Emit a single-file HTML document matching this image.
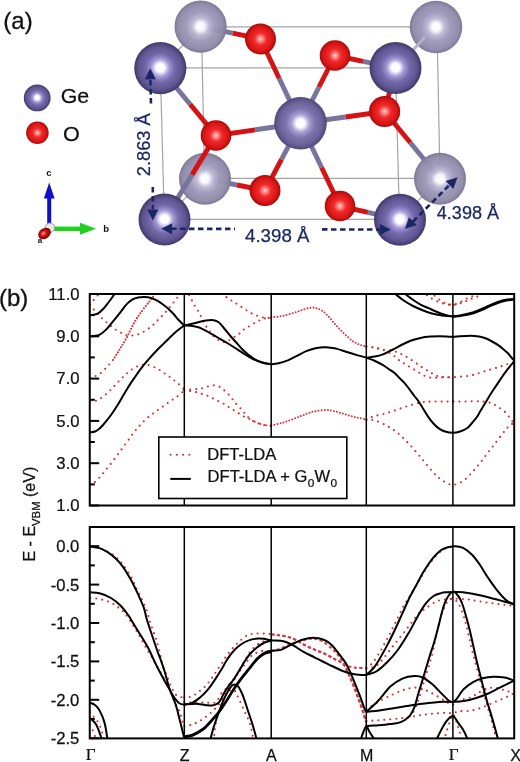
<!DOCTYPE html>
<html><head><meta charset="utf-8"><title>GeO2 structure and band structure</title>
<style>
html,body{margin:0;padding:0;background:#fff;}
body{width:520px;height:762px;overflow:hidden;}
svg{display:block;}
</style></head><body>
<svg width="520" height="762" viewBox="0 0 520 762">
<defs>
<radialGradient id="gD" cx="0.5" cy="0.5" r="0.5" fx="0.5" fy="0.49">
<stop offset="0" stop-color="#ffffff"/><stop offset="0.16" stop-color="#fcfbff"/><stop offset="0.34" stop-color="#a399d6"/><stop offset="0.55" stop-color="#7469aa"/><stop offset="0.82" stop-color="#5e5592"/><stop offset="1" stop-color="#413969"/>
</radialGradient>
<radialGradient id="gC" cx="0.5" cy="0.5" r="0.5" fx="0.5" fy="0.5">
<stop offset="0" stop-color="#ffffff"/><stop offset="0.16" stop-color="#fcfbff"/><stop offset="0.34" stop-color="#a8a0d4"/><stop offset="0.55" stop-color="#7d75ad"/><stop offset="0.82" stop-color="#6a6298"/><stop offset="1" stop-color="#4f4878"/>
</radialGradient>
<radialGradient id="gL" cx="0.5" cy="0.5" r="0.5" fx="0.5" fy="0.5">
<stop offset="0" stop-color="#ffffff"/><stop offset="0.15" stop-color="#fbfaff"/><stop offset="0.33" stop-color="#bcb7d3"/><stop offset="0.56" stop-color="#9e98b9"/><stop offset="0.85" stop-color="#908aaa"/><stop offset="1" stop-color="#7a7494"/>
</radialGradient>
<radialGradient id="gO" cx="0.5" cy="0.5" r="0.5" fx="0.5" fy="0.5">
<stop offset="0" stop-color="#ffdede"/><stop offset="0.15" stop-color="#ff8a8a"/><stop offset="0.4" stop-color="#f02a2a"/><stop offset="0.8" stop-color="#d81414"/><stop offset="1" stop-color="#a80a0a"/>
</radialGradient>
<radialGradient id="gA" cx="0.5" cy="0.5" r="0.5" fx="0.4" fy="0.4">
<stop offset="0" stop-color="#ff9090"/><stop offset="0.5" stop-color="#c41010"/><stop offset="1" stop-color="#7a0000"/>
</radialGradient>
<clipPath id="cT"><rect x="89.75" y="294.0" width="424.45000000000005" height="211.5"/></clipPath>
<clipPath id="cB"><rect x="89.75" y="527.0" width="424.45000000000005" height="211.39999999999998"/></clipPath>
</defs>
<rect width="520" height="762" fill="#fff"/>
<g font-family="Liberation Sans, Arial, sans-serif" fill="#111" stroke="#111" stroke-width="0.3">
<text x="3.3" y="29.4" font-size="24">(a)</text>
<text x="-1" y="305.6" font-size="24">(b)</text>
</g>
<!-- legend atoms -->
<circle cx="37.2" cy="97.9" r="13.4" fill="url(#gD)"/>
<circle cx="37.4" cy="132.8" r="11.3" fill="url(#gO)"/>
<g font-family="Liberation Sans, Arial, sans-serif" font-size="20" fill="#111" stroke="#111" stroke-width="0.25">
<text transform="translate(60.7,102.9) scale(1.04,1)" font-size="20.5">Ge</text>
<text transform="translate(63.1,140.9) scale(1.03,1)" font-size="21">O</text>
</g>
<!-- axes indicator -->
<g>
<line x1="49.2" y1="226" x2="49.2" y2="197" stroke="#1010c8" stroke-width="4"/>
<polygon points="49.2,182.5 43.8,198.5 54.6,198.5" fill="#1010c8"/>
<line x1="53" y1="228.8" x2="81" y2="228.8" stroke="#1ed21e" stroke-width="4.4"/>
<polygon points="96,228.8 80,222.8 80,234.8" fill="#1ed21e"/>
<circle cx="49.9" cy="227.8" r="4.8" fill="#e8e8e8" stroke="#9a9a9a" stroke-width="1"/>
<ellipse cx="44.5" cy="233.5" rx="6.8" ry="5.2" transform="rotate(-35 44.5 233.5)" fill="url(#gA)"/>
<g font-family="Liberation Sans, Arial, sans-serif" font-weight="bold" font-size="9.5" fill="#111">
<text x="46.2" y="175.8">c</text>
<text x="103.2" y="232">b</text>
<text x="37.8" y="242.5" font-size="8">a</text>
</g>
</g>
<line x1="160.3" y1="67.8" x2="395.5" y2="67.8" stroke="#a4a4a4" stroke-width="1.2"/>
<line x1="164.3" y1="219.4" x2="399.5" y2="219.4" stroke="#a4a4a4" stroke-width="1.2"/>
<line x1="160.3" y1="67.8" x2="164.3" y2="219.4" stroke="#a4a4a4" stroke-width="1.2"/>
<line x1="395.5" y1="67.8" x2="399.5" y2="219.4" stroke="#a4a4a4" stroke-width="1.2"/>
<line x1="201.5" y1="26.8" x2="437.0" y2="26.8" stroke="#a4a4a4" stroke-width="1.2"/>
<line x1="204.5" y1="178.3" x2="440.0" y2="178.3" stroke="#a4a4a4" stroke-width="1.2"/>
<line x1="201.5" y1="26.8" x2="204.5" y2="178.3" stroke="#a4a4a4" stroke-width="1.2"/>
<line x1="437.0" y1="26.8" x2="440.0" y2="178.3" stroke="#a4a4a4" stroke-width="1.2"/>
<line x1="160.3" y1="67.8" x2="201.5" y2="26.8" stroke="#a4a4a4" stroke-width="1.2"/>
<line x1="395.5" y1="67.8" x2="437.0" y2="26.8" stroke="#a4a4a4" stroke-width="1.2"/>
<line x1="164.3" y1="219.4" x2="204.5" y2="178.3" stroke="#a4a4a4" stroke-width="1.2"/>
<line x1="399.5" y1="219.4" x2="440.0" y2="178.3" stroke="#a4a4a4" stroke-width="1.2"/>
<line x1="200.6" y1="26.6" x2="232.6" y2="33.2" stroke="#77749e" stroke-width="4.9"/><line x1="232.6" y1="33.2" x2="260.5" y2="39.0" stroke="#d41414" stroke-width="4.9"/>
<line x1="205.0" y1="178.8" x2="237.1" y2="185.0" stroke="#77749e" stroke-width="4.9"/><line x1="237.1" y1="185.0" x2="265.0" y2="190.5" stroke="#d41414" stroke-width="4.9"/>
<line x1="440.0" y1="178.8" x2="410.4" y2="142.8" stroke="#77749e" stroke-width="4.9"/><line x1="410.4" y1="142.8" x2="384.6" y2="111.5" stroke="#d41414" stroke-width="4.9"/>
<circle cx="200.6" cy="26.6" r="26.1" fill="url(#gL)" fill-opacity="0.96"/>
<circle cx="436.0" cy="27.0" r="26.3" fill="url(#gL)" fill-opacity="0.96"/>
<circle cx="205.0" cy="178.8" r="26.0" fill="url(#gL)" fill-opacity="0.96"/>
<circle cx="440.0" cy="178.8" r="26.0" fill="url(#gL)" fill-opacity="0.96"/>
<line x1="413.0" y1="50.0" x2="425.0" y2="37.0" stroke="#b4b1c8" stroke-width="3"/>
<line x1="300.5" y1="123.3" x2="279.1" y2="78.2" stroke="#77749e" stroke-width="4.9"/><line x1="279.1" y1="78.2" x2="260.5" y2="39.0" stroke="#d41414" stroke-width="4.9"/>
<line x1="300.5" y1="123.3" x2="319.0" y2="87.0" stroke="#77749e" stroke-width="4.9"/><line x1="319.0" y1="87.0" x2="335.0" y2="55.5" stroke="#d41414" stroke-width="4.9"/>
<line x1="300.5" y1="123.3" x2="255.3" y2="129.8" stroke="#77749e" stroke-width="4.9"/><line x1="255.3" y1="129.8" x2="216.0" y2="135.5" stroke="#d41414" stroke-width="4.9"/>
<line x1="300.5" y1="123.3" x2="345.5" y2="117.0" stroke="#77749e" stroke-width="4.9"/><line x1="345.5" y1="117.0" x2="384.6" y2="111.5" stroke="#d41414" stroke-width="4.9"/>
<line x1="300.5" y1="123.3" x2="281.5" y2="159.3" stroke="#77749e" stroke-width="4.9"/><line x1="281.5" y1="159.3" x2="265.0" y2="190.5" stroke="#d41414" stroke-width="4.9"/>
<line x1="300.5" y1="123.3" x2="321.6" y2="167.5" stroke="#77749e" stroke-width="4.9"/><line x1="321.6" y1="167.5" x2="340.0" y2="206.0" stroke="#d41414" stroke-width="4.9"/>
<line x1="160.3" y1="68.2" x2="190.1" y2="104.2" stroke="#77749e" stroke-width="4.9"/><line x1="190.1" y1="104.2" x2="216.0" y2="135.5" stroke="#d41414" stroke-width="4.9"/>
<line x1="395.5" y1="68.0" x2="363.1" y2="61.3" stroke="#77749e" stroke-width="4.9"/><line x1="363.1" y1="61.3" x2="335.0" y2="55.5" stroke="#d41414" stroke-width="4.9"/>
<line x1="395.5" y1="68.0" x2="389.7" y2="91.3" stroke="#77749e" stroke-width="4.9"/><line x1="389.7" y1="91.3" x2="384.6" y2="111.5" stroke="#d41414" stroke-width="4.9"/>
<line x1="164.5" y1="219.6" x2="192.1" y2="174.6" stroke="#77749e" stroke-width="4.9"/><line x1="192.1" y1="174.6" x2="216.0" y2="135.5" stroke="#d41414" stroke-width="4.9"/>
<line x1="400.0" y1="219.8" x2="367.9" y2="212.4" stroke="#77749e" stroke-width="4.9"/><line x1="367.9" y1="212.4" x2="340.0" y2="206.0" stroke="#d41414" stroke-width="4.9"/>
<circle cx="260.5" cy="39.0" r="15.5" fill="url(#gO)"/>
<circle cx="335.0" cy="55.5" r="15.3" fill="url(#gO)"/>
<circle cx="216.0" cy="135.5" r="15.3" fill="url(#gO)"/>
<circle cx="384.6" cy="111.5" r="15.6" fill="url(#gO)"/>
<circle cx="265.0" cy="190.5" r="15.5" fill="url(#gO)"/>
<circle cx="340.0" cy="206.0" r="15.3" fill="url(#gO)"/>
<circle cx="300.5" cy="123.3" r="26.3" fill="url(#gC)"/>
<circle cx="160.3" cy="68.2" r="26.1" fill="url(#gD)"/>
<circle cx="395.5" cy="68.0" r="26.0" fill="url(#gD)"/>
<circle cx="164.5" cy="219.6" r="26.0" fill="url(#gD)"/>
<circle cx="400.0" cy="219.8" r="26.0" fill="url(#gD)"/>
<line x1="150.4" y1="80.0" x2="151.0" y2="105.0" stroke="#1a2764" stroke-width="2.6" stroke-dasharray="5.5,3.5"/>
<polygon points="150.2,68.3 155.8,79.2 144.8,79.4" fill="#1a2764"/>
<line x1="152.8" y1="187.0" x2="152.9" y2="209.0" stroke="#1a2764" stroke-width="2.6" stroke-dasharray="5.5,3.5"/>
<polygon points="152.9,220.6 147.4,209.6 158.4,209.6" fill="#1a2764"/>
<line x1="171.0" y1="228.8" x2="235.0" y2="228.9" stroke="#1a2764" stroke-width="2.6" stroke-dasharray="5.5,3.5"/>
<polygon points="161.2,228.8 172.2,223.3 172.2,234.3" fill="#1a2764"/>
<line x1="322.0" y1="229.4" x2="380.0" y2="229.6" stroke="#1a2764" stroke-width="2.6" stroke-dasharray="5.5,3.5"/>
<polygon points="390.8,229.6 379.8,235.1 379.8,224.1" fill="#1a2764"/>
<line x1="413.0" y1="221.5" x2="449.5" y2="185.0" stroke="#1a2764" stroke-width="2.6" stroke-dasharray="5.5,3.5"/>
<polygon points="405.0,229.0 408.9,217.3 416.7,225.1" fill="#1a2764"/>
<polygon points="457.5,177.3 453.3,188.9 445.7,180.9" fill="#1a2764"/>
<g font-family="Liberation Sans, Arial, sans-serif" font-size="18" fill="#1a2764" stroke="#1a2764" stroke-width="0.25">
<text x="245" y="242" textLength="64.5" lengthAdjust="spacingAndGlyphs">4.398 Å</text>
<text x="436.8" y="219" textLength="62.3" lengthAdjust="spacingAndGlyphs">4.398 Å</text>
<text transform="translate(149.5,176.2) rotate(-90)" textLength="63" lengthAdjust="spacingAndGlyphs">2.863 Å</text>
</g>
<!-- band plot -->
<g clip-path="url(#cT)">
<g fill="none" stroke="#dd2a2a" stroke-width="2.1" stroke-linecap="round" stroke-dasharray="0,6">
<path class="r" d="M89.9,378.0 C90.9,377.6 94.1,376.8 96.1,375.8 C98.1,374.8 100.1,373.5 101.8,372.1 C103.5,370.8 104.8,369.2 106.2,367.7 C107.7,366.2 109.1,364.8 110.5,363.1 C111.9,361.4 113.0,360.1 114.7,357.5 C116.4,354.9 118.6,351.2 120.7,347.7 C122.8,344.1 125.2,340.4 127.4,336.2 C129.7,332.0 131.8,326.9 134.2,322.7 C136.6,318.5 139.2,314.7 141.8,311.2 C144.4,307.7 147.2,304.4 149.5,301.5 C151.8,298.6 153.9,295.7 155.3,293.8 C156.7,291.9 157.6,290.6 158.0,290.0"/>
<path class="r" d="M89.9,304.9 C90.6,305.8 92.8,308.5 94.3,310.2 C95.8,311.9 97.5,313.6 99.0,315.2 C100.5,316.8 101.9,318.2 103.4,319.6 C104.9,321.0 106.6,322.4 108.2,323.8 C109.8,325.2 111.3,326.8 113.0,328.0 C114.7,329.2 116.5,330.3 118.3,331.3 C120.1,332.3 122.4,333.5 124.0,334.2 C125.6,334.9 126.3,335.3 128.0,335.5 C129.7,335.7 132.2,335.5 134.2,335.2 C136.2,334.9 138.0,334.6 139.9,333.8 C141.8,333.0 143.8,331.6 145.7,330.4 C147.6,329.2 149.9,327.8 151.5,326.5 C153.1,325.2 153.9,324.1 155.3,322.7 C156.7,321.3 158.7,319.3 160.1,317.9 C161.5,316.4 162.6,315.6 164.0,314.0 C165.4,312.4 167.4,310.1 168.8,308.3 C170.2,306.6 171.3,305.1 172.6,303.5 C173.9,301.9 175.3,300.3 176.5,298.7 C177.7,297.1 178.9,295.4 180.0,294.0 C181.1,292.6 182.5,290.7 183.0,290.0"/>
<path class="r" d="M89.9,304.9 C90.6,304.0 92.8,301.2 94.3,299.4 C95.8,297.6 97.5,295.9 98.6,294.3 C99.7,292.7 100.6,290.7 101.0,290.0"/>
<path class="r" d="M89.9,401.5 C91.0,401.4 94.7,401.3 96.7,400.6 C98.7,399.9 100.1,398.7 101.8,397.5 C103.5,396.3 105.3,394.7 107.0,393.3 C108.7,391.9 110.2,390.5 111.7,389.0 C113.2,387.5 114.3,385.9 115.7,384.4 C117.1,382.9 118.8,381.3 120.3,379.8 C121.8,378.3 123.2,376.9 124.7,375.5 C126.2,374.1 127.8,372.5 129.5,371.2 C131.2,369.9 132.9,368.7 134.7,367.7 C136.5,366.7 138.6,365.9 140.5,365.4 C142.4,364.9 143.8,364.2 146.0,364.5 C148.2,364.8 151.2,366.0 153.4,366.9 C155.6,367.8 157.3,368.7 159.2,369.8 C161.1,370.9 163.0,372.4 164.9,373.7 C166.8,375.0 168.8,376.1 170.7,377.5 C172.6,378.9 174.6,380.7 176.5,382.3 C178.4,383.9 180.9,385.8 182.2,387.1 C183.5,388.4 183.9,389.7 184.2,390.2"/>
<path class="r" d="M89.9,484.5 C90.4,484.4 91.3,485.0 93.0,483.8 C94.7,482.5 97.8,479.4 100.0,477.0 C102.2,474.6 103.8,472.2 106.0,469.5 C108.2,466.8 110.7,464.0 113.0,461.0 C115.3,458.0 117.7,454.7 120.0,451.5 C122.3,448.3 124.8,445.0 127.0,442.0 C129.2,439.0 131.2,435.9 133.0,433.5 C134.8,431.1 136.2,429.6 138.0,427.5 C139.8,425.4 141.8,423.1 144.0,421.0 C146.2,418.9 148.7,416.8 151.0,415.0 C153.3,413.2 155.7,411.7 158.0,410.0 C160.3,408.3 162.7,406.7 165.0,405.0 C167.3,403.3 169.8,401.5 172.0,400.0 C174.2,398.5 176.0,397.6 178.0,396.0 C180.0,394.4 183.2,391.2 184.2,390.2"/>
<path class="r" d="M186.0,290.0 C186.4,290.7 187.6,292.4 188.5,294.0 C189.4,295.6 190.5,297.7 191.5,299.6 C192.5,301.5 193.3,303.5 194.4,305.4 C195.5,307.3 197.2,309.3 198.3,311.2 C199.4,313.1 200.2,315.0 201.2,316.9 C202.1,318.8 203.1,320.7 204.0,322.5 C204.9,324.3 205.8,325.8 206.9,327.5 C208.0,329.2 209.2,330.9 210.5,332.5 C211.8,334.1 212.9,335.7 214.6,337.1 C216.2,338.5 218.5,340.2 220.4,341.0 C222.3,341.8 224.1,342.5 226.0,342.0 C227.9,341.5 230.0,339.2 231.9,338.1 C233.8,337.0 235.9,336.5 237.7,335.2 C239.5,333.9 240.9,331.7 242.5,330.4 C244.1,329.1 245.5,328.6 247.3,327.5 C249.1,326.4 251.2,324.8 253.1,323.7 C255.0,322.6 256.9,321.7 258.8,320.8 C260.7,319.9 262.5,319.0 264.6,318.5 C266.7,318.0 270.2,317.8 271.3,317.6"/>
<path class="r" d="M222.0,293.0 C222.8,293.8 225.3,296.3 227.1,297.7 C228.9,299.1 231.1,300.4 232.9,301.5 C234.7,302.6 235.9,303.3 237.7,304.4 C239.5,305.5 241.6,307.0 243.5,308.3 C245.4,309.6 247.3,311.0 249.2,312.1 C251.1,313.2 253.1,314.2 255.0,315.0 C256.9,315.8 259.0,316.4 260.8,316.9 C262.6,317.4 263.9,318.1 265.6,318.2 C267.4,318.3 270.4,317.5 271.3,317.4"/>
<path class="r" d="M366.4,346.5 C367.7,346.7 371.5,347.1 374.1,347.6 C376.7,348.1 379.2,348.4 382.2,349.6 C385.2,350.8 389.6,352.9 392.3,354.6 C395.0,356.3 396.3,358.2 398.3,359.7 C400.3,361.2 401.7,362.0 404.4,363.7 C407.1,365.4 411.1,367.8 414.5,369.8 C417.9,371.8 421.7,374.5 424.6,375.8 C427.5,377.1 429.1,377.5 431.7,377.8 C434.3,378.1 436.5,377.6 440.0,377.5 C443.5,377.4 450.8,377.2 452.9,377.2"/>
<path class="r" d="M366.4,346.5 C367.7,346.7 371.5,347.1 374.1,347.6 C376.7,348.1 379.2,349.1 382.2,349.6 C385.2,350.1 388.9,349.8 392.3,350.6 C395.7,351.4 399.0,352.9 402.4,354.6 C405.8,356.3 409.1,358.5 412.5,360.7 C415.9,362.9 419.7,365.8 422.6,367.7 C425.5,369.6 427.6,370.6 430.0,372.0 C432.4,373.4 434.2,375.0 436.7,375.8 C439.2,376.6 442.3,376.8 445.0,377.0 C447.7,377.2 450.1,377.3 452.9,377.2 C455.7,377.1 459.0,376.8 462.0,376.5 C465.0,376.2 468.1,375.9 470.8,375.4 C473.5,374.9 475.4,374.3 478.0,373.5 C480.6,372.7 483.5,371.6 486.2,370.8 C488.9,370.0 491.4,369.3 494.0,368.5 C496.6,367.7 499.2,366.9 501.5,366.2 C503.8,365.4 505.9,364.6 508.0,364.0 C510.1,363.4 512.8,362.6 513.8,362.3"/>
<path class="r" d="M184.2,390.2 C186.1,390.0 192.4,389.5 195.4,389.2 C198.4,388.9 199.8,388.8 202.0,388.3 C204.2,387.8 206.7,386.8 208.8,386.3 C210.9,385.8 212.7,385.2 214.6,385.4 C216.5,385.6 218.6,386.3 220.4,387.3 C222.2,388.3 223.6,389.8 225.2,391.2 C226.8,392.6 228.6,394.4 230.0,396.0 C231.4,397.6 232.5,399.2 233.8,400.8 C235.1,402.4 236.2,404.0 237.7,405.6 C239.1,407.2 241.1,408.8 242.5,410.4 C243.9,412.0 244.7,413.5 246.3,415.2 C247.9,416.9 249.9,419.0 252.0,420.4 C254.1,421.8 256.7,422.7 258.8,423.5 C260.9,424.3 262.5,424.8 264.6,425.2 C266.7,425.6 270.2,425.7 271.3,425.8"/>
<path class="r" d="M184.2,390.2 C186.1,390.5 192.4,391.4 195.4,392.0 C198.4,392.6 199.9,393.3 202.0,394.0 C204.1,394.7 206.1,395.2 208.0,396.0 C209.9,396.8 211.8,397.9 213.7,398.8 C215.6,399.8 217.5,400.7 219.4,401.7 C221.3,402.7 223.4,403.6 225.2,404.6 C227.0,405.7 228.2,406.9 230.0,408.0 C231.8,409.1 233.9,410.1 235.8,411.3 C237.7,412.5 239.6,414.1 241.5,415.2 C243.4,416.3 245.4,417.1 247.3,418.0 C249.2,418.9 251.1,419.9 253.0,420.8 C254.9,421.7 257.0,422.8 259.0,423.5 C261.0,424.2 262.9,424.6 265.0,425.0 C267.1,425.4 270.2,425.7 271.3,425.8"/>
<path class="r" d="M366.4,419.6 C367.7,419.1 370.8,417.4 374.1,416.3 C377.4,415.2 382.2,414.5 386.2,413.3 C390.2,412.1 394.2,410.6 398.3,409.2 C402.4,407.8 406.4,406.4 410.5,405.2 C414.6,404.0 419.0,402.8 422.6,402.2 C426.2,401.6 428.6,401.7 432.0,401.6 C435.4,401.5 439.3,401.6 442.8,401.6 C446.3,401.6 449.2,401.6 452.9,401.6 C456.6,401.6 460.7,401.6 465.0,401.5 C469.3,401.4 475.2,401.1 478.5,401.2 C481.8,401.2 482.9,401.5 485.0,401.8 C487.1,402.1 489.0,402.4 490.8,403.0 C492.6,403.6 494.2,404.5 496.0,405.5 C497.8,406.5 499.8,407.9 501.5,409.2 C503.2,410.4 504.7,411.6 506.0,413.0 C507.3,414.4 508.5,416.2 509.5,417.5 C510.5,418.8 511.1,420.1 512.0,421.0 C512.9,421.9 514.2,422.7 514.6,423.0"/>
<path class="r" d="M366.4,419.9 C367.7,420.0 370.8,419.4 374.1,420.3 C377.4,421.2 382.2,423.2 386.2,425.4 C390.2,427.6 394.2,430.1 398.3,433.5 C402.4,436.9 406.4,441.2 410.5,445.6 C414.6,450.0 418.9,455.3 422.6,459.7 C426.3,464.1 430.1,468.9 432.7,471.8 C435.3,474.7 436.0,475.3 438.0,477.0 C440.0,478.7 442.3,480.6 444.8,481.9 C447.3,483.2 450.0,484.9 452.9,484.8 C455.8,484.7 459.2,483.4 462.3,481.5 C465.4,479.6 468.6,476.2 471.5,473.1 C474.4,470.0 477.3,466.5 480.0,463.1 C482.7,459.8 485.1,456.3 487.7,453.0 C490.3,449.7 492.8,446.4 495.4,443.1 C497.9,439.8 501.1,435.5 503.0,433.1 C504.9,430.8 505.3,430.4 506.5,429.0 C507.7,427.6 508.6,426.0 510.0,425.0 C511.4,424.0 513.8,423.3 514.6,423.0"/>
<path class="r" d="M422.0,292.0 C422.7,292.4 424.7,293.6 426.0,294.5 C427.3,295.4 428.4,296.5 430.0,297.5 C431.6,298.5 433.9,299.8 435.8,300.7 C437.7,301.6 439.4,302.4 441.5,303.0 C443.6,303.6 446.5,304.3 448.5,304.6 C450.5,304.9 451.4,305.3 453.5,305.0 C455.6,304.7 458.9,303.7 461.2,303.0 C463.4,302.3 465.2,301.4 467.0,300.7 C468.8,299.9 470.3,299.2 472.0,298.5 C473.7,297.8 475.6,297.4 477.3,296.6 C479.0,295.9 480.7,294.8 482.0,294.0 C483.3,293.2 484.5,292.3 485.0,292.0"/>
<path class="r" d="M430.0,292.0 C430.5,292.4 431.8,293.6 433.0,294.5 C434.2,295.4 435.4,296.5 437.0,297.7 C438.6,298.9 440.8,300.8 442.7,301.8 C444.6,302.9 446.7,303.5 448.5,304.0 C450.3,304.5 451.4,305.2 453.5,304.8 C455.6,304.4 458.8,302.9 461.0,301.8 C463.2,300.7 465.1,299.4 467.0,298.4 C468.9,297.4 471.2,296.7 472.7,296.0 C474.2,295.3 475.1,294.6 476.0,294.0 C476.9,293.4 477.7,292.8 478.0,292.5"/>
<path class="r" d="M114.7,357.5 C115.7,355.9 118.6,351.2 120.7,347.7 C122.8,344.1 125.2,340.4 127.4,336.2 C129.7,332.0 131.8,326.9 134.2,322.7 C136.6,318.5 139.2,314.7 141.8,311.2 C144.4,307.7 147.2,304.4 149.5,301.5 C151.8,298.6 153.9,295.7 155.3,293.8 C156.7,291.9 157.6,290.6 158.0,290.0"/>
</g>
<g fill="none" stroke="#dd3038" stroke-width="2" stroke-linecap="round" stroke-dasharray="0,3.1">
<path class="r" d="M271.3,317.4 C273.3,317.1 278.8,316.7 283.1,315.8 C287.4,314.9 293.2,313.0 296.9,311.9 C300.5,310.8 302.5,309.7 305.0,309.0 C307.5,308.3 309.9,307.6 311.9,307.5 C313.9,307.4 315.3,307.8 317.0,308.3 C318.7,308.9 320.6,309.7 322.3,310.8 C324.0,311.9 325.5,313.5 327.0,315.0 C328.5,316.5 330.0,318.3 331.5,320.0 C333.0,321.7 334.4,323.6 336.0,325.3 C337.6,327.0 339.1,328.6 340.8,330.4 C342.6,332.1 344.6,334.1 346.5,335.8 C348.4,337.5 350.6,339.5 352.3,340.8 C354.1,342.1 355.5,342.7 357.0,343.5 C358.5,344.3 359.9,344.9 361.5,345.4 C363.1,345.9 365.6,346.3 366.4,346.5"/>
<path class="r" d="M271.3,425.4 C273.3,424.9 279.7,423.7 283.1,422.7 C286.6,421.7 288.9,420.6 292.0,419.5 C295.1,418.4 298.8,416.9 301.5,415.8 C304.2,414.8 305.7,414.0 308.0,413.2 C310.3,412.4 312.4,411.7 315.4,411.2 C318.4,410.7 323.0,410.1 325.8,410.0 C328.6,409.9 329.9,410.4 332.0,410.8 C334.1,411.2 336.3,411.7 338.5,412.3 C340.7,412.9 342.7,413.5 345.0,414.2 C347.3,414.9 350.0,415.9 352.3,416.5 C354.6,417.1 356.6,417.5 359.0,418.0 C361.4,418.5 365.2,419.2 366.4,419.4"/>
</g>
<g fill="none" stroke="#000" stroke-width="2" stroke-linejoin="round">
<path class="k" d="M89.9,315.3 C91.2,315.0 95.3,314.7 97.6,313.6 C99.8,312.5 101.5,310.8 103.4,308.8 C105.3,306.8 107.4,303.8 109.2,301.5 C111.0,299.2 112.9,296.6 114.0,294.8 C115.1,293.1 115.7,291.6 116.0,291.0"/>
<path class="k" d="M89.9,336.4 C91.4,336.2 96.0,336.2 98.6,335.2 C101.2,334.2 103.1,332.5 105.3,330.4 C107.5,328.3 109.6,325.6 112.0,322.7 C114.4,319.8 117.3,316.2 119.7,313.1 C122.1,310.1 124.4,306.6 126.5,304.4 C128.6,302.1 130.3,300.8 132.2,299.6 C134.1,298.5 135.9,297.9 138.0,297.5 C140.1,297.1 142.5,296.9 144.7,297.0 C146.9,297.1 148.9,297.4 151.0,298.0 C153.1,298.6 155.2,299.5 157.2,300.6 C159.2,301.7 161.1,303.1 163.0,304.5 C164.9,305.9 167.0,307.5 168.8,309.2 C170.6,310.9 172.4,312.7 174.0,314.5 C175.6,316.3 176.7,318.0 178.4,319.8 C180.1,321.6 183.2,324.5 184.2,325.4"/>
<path class="k" d="M89.9,432.5 C90.8,432.3 93.5,432.1 95.0,431.5 C96.5,430.9 97.7,430.1 99.0,429.0 C100.3,427.9 101.0,427.3 103.0,425.0 C105.0,422.7 108.7,418.2 111.0,415.0 C113.3,411.8 115.1,409.1 117.0,406.0 C118.9,402.9 120.8,399.6 122.6,396.5 C124.4,393.4 126.1,390.6 128.0,387.5 C129.9,384.4 132.2,381.1 134.2,378.2 C136.2,375.2 137.9,372.6 140.0,369.8 C142.1,367.0 144.1,364.4 146.8,361.3 C149.5,358.2 153.2,354.1 156.0,351.2 C158.8,348.2 161.4,345.8 163.6,343.6 C165.8,341.4 167.1,340.2 169.2,338.2 C171.3,336.2 173.8,333.7 176.3,331.6 C178.8,329.5 182.9,326.4 184.2,325.4"/>
<path class="k" d="M184.2,325.4 C185.5,325.1 189.5,324.4 192.0,323.8 C194.5,323.2 196.7,322.6 199.0,322.0 C201.3,321.4 203.6,320.8 206.0,320.5 C208.4,320.2 211.5,319.9 213.7,320.2 C215.9,320.5 217.2,321.1 219.0,322.5 C220.8,323.9 222.4,326.3 224.2,328.5 C226.0,330.7 228.1,333.2 230.0,335.5 C231.9,337.8 233.8,339.8 235.8,342.0 C237.8,344.2 239.8,346.8 242.0,349.0 C244.2,351.2 247.0,353.6 249.2,355.4 C251.4,357.1 253.1,358.4 255.0,359.5 C256.9,360.6 259.0,361.3 260.8,362.0 C262.6,362.7 264.2,363.1 266.0,363.5 C267.8,363.9 270.4,364.1 271.3,364.2"/>
<path class="k" d="M184.2,325.4 C185.3,325.5 188.5,325.4 191.0,325.8 C193.5,326.2 196.4,326.5 199.2,327.5 C202.0,328.5 204.8,330.2 208.0,332.0 C211.2,333.8 215.2,336.1 218.5,338.0 C221.8,339.9 224.8,341.6 228.0,343.5 C231.2,345.4 234.9,347.8 237.7,349.6 C240.5,351.4 242.4,352.9 245.0,354.5 C247.6,356.1 250.2,357.7 253.0,359.0 C255.8,360.3 258.9,361.6 262.0,362.5 C265.1,363.4 269.8,363.9 271.3,364.2"/>
<path class="k" d="M271.3,364.2 C272.5,364.1 275.8,363.9 278.5,363.3 C281.2,362.7 284.6,361.6 287.7,360.4 C290.8,359.1 293.8,357.3 296.9,355.8 C300.0,354.3 303.1,352.5 306.2,351.2 C309.3,349.9 312.1,348.9 315.4,348.2 C318.7,347.5 322.3,347.1 325.8,347.2 C329.3,347.3 332.6,347.8 336.2,348.6 C339.8,349.5 344.2,351.2 347.7,352.3 C351.1,353.4 353.8,354.2 356.9,355.1 C360.0,356.0 364.8,357.2 366.4,357.6"/>
<path class="k" d="M366.4,357.8 C367.7,357.6 371.4,357.1 374.0,356.6 C376.6,356.1 379.2,355.7 382.2,354.6 C385.2,353.5 388.6,351.7 392.0,350.0 C395.4,348.3 399.4,346.0 402.4,344.5 C405.4,343.0 407.3,342.0 410.0,341.0 C412.7,340.0 416.0,339.2 418.5,338.5 C421.0,337.8 423.0,337.4 425.0,337.0 C427.0,336.6 428.2,336.5 430.7,336.4 C433.2,336.3 437.3,336.3 440.0,336.3 C442.7,336.3 444.9,336.5 447.0,336.6 C449.1,336.7 450.7,336.9 452.9,336.8 C455.1,336.8 457.0,336.5 460.0,336.3 C463.0,336.1 467.6,335.8 470.8,335.8 C474.0,335.8 476.4,336.1 479.0,336.5 C481.6,336.9 484.0,337.7 486.2,338.5 C488.4,339.3 489.9,340.4 492.0,341.5 C494.1,342.6 496.7,344.1 498.5,345.4 C500.3,346.6 501.5,347.7 503.0,349.0 C504.5,350.3 506.4,351.7 507.7,353.0 C509.0,354.3 509.9,355.7 511.0,357.0 C512.1,358.3 514.0,360.2 514.6,360.8"/>
<path class="k" d="M366.4,357.8 C367.7,358.2 371.4,359.4 374.0,360.5 C376.6,361.6 379.9,363.4 382.2,364.7 C384.5,366.0 386.0,367.1 388.0,368.5 C390.0,369.9 392.5,371.3 394.3,372.8 C396.1,374.3 397.3,375.8 399.0,377.5 C400.7,379.2 402.6,380.8 404.4,382.9 C406.2,385.0 408.4,387.9 410.0,390.0 C411.6,392.1 412.6,393.6 414.0,395.5 C415.4,397.4 417.0,399.0 418.5,401.2 C420.0,403.4 421.3,405.8 423.0,408.5 C424.7,411.2 426.9,414.9 428.6,417.3 C430.3,419.7 431.3,421.1 433.0,423.0 C434.7,424.9 436.7,427.0 438.7,428.4 C440.7,429.8 442.6,430.8 445.0,431.5 C447.4,432.2 450.4,432.8 452.9,432.8 C455.4,432.8 457.5,432.4 460.0,431.5 C462.5,430.6 465.7,429.1 467.7,427.7 C469.7,426.3 470.5,424.8 472.0,423.0 C473.5,421.2 475.4,419.2 476.9,417.0 C478.4,414.8 479.4,412.6 481.0,410.0 C482.6,407.4 484.5,404.2 486.2,401.5 C487.9,398.8 489.2,396.3 491.0,393.5 C492.8,390.7 495.1,387.4 496.9,384.6 C498.7,381.9 500.2,379.6 502.0,377.0 C503.8,374.4 506.2,371.2 507.7,369.2 C509.2,367.2 509.9,366.4 511.0,365.0 C512.1,363.6 514.0,361.7 514.6,361.0"/>
<path class="k" d="M390.0,290.0 C390.9,290.7 393.1,292.3 395.3,294.0 C397.5,295.7 400.2,298.1 403.0,300.0 C405.8,301.9 408.7,303.8 412.0,305.5 C415.3,307.2 419.3,308.9 422.6,310.2 C425.9,311.5 428.8,312.6 432.0,313.5 C435.2,314.4 438.5,315.0 442.0,315.5 C445.5,316.0 449.9,316.3 452.9,316.3 C455.9,316.3 457.0,316.1 460.0,315.5 C463.0,314.9 467.8,313.8 470.8,313.0 C473.8,312.2 475.4,311.5 478.0,310.5 C480.6,309.5 483.5,308.1 486.2,306.9 C488.9,305.7 491.4,304.5 494.0,303.5 C496.6,302.5 499.2,301.5 501.5,300.8 C503.8,300.1 505.8,299.8 508.0,299.5 C510.2,299.2 513.5,299.0 514.6,298.9"/>
<path class="k" d="M400.0,290.0 C400.9,290.7 403.1,292.2 405.4,294.0 C407.7,295.8 411.4,298.7 414.0,300.5 C416.6,302.3 418.6,303.5 421.0,304.8 C423.4,306.1 426.1,307.1 428.6,308.2 C431.1,309.3 433.4,310.4 436.0,311.5 C438.6,312.6 441.2,313.6 444.0,314.5 C446.8,315.4 450.2,316.4 452.9,316.6 C455.6,316.9 457.0,316.4 460.0,316.0 C463.0,315.6 467.8,314.8 470.8,314.0 C473.8,313.2 475.4,312.5 478.0,311.5 C480.6,310.5 483.5,309.2 486.2,308.0 C488.9,306.8 491.4,305.5 494.0,304.5 C496.6,303.5 499.2,302.5 501.5,301.8 C503.8,301.1 505.8,300.7 508.0,300.3 C510.2,299.9 513.5,299.7 514.6,299.6"/>
</g>
</g>
<g clip-path="url(#cB)">
<g fill="none" stroke="#dd2a2a" stroke-width="2.1" stroke-linecap="round" stroke-dasharray="0,6">
<path class="r" d="M90.3,546.4 C91.9,546.7 96.9,547.3 100.0,548.3 C103.1,549.3 106.2,550.9 109.0,552.5 C111.8,554.1 114.6,555.8 117.0,558.0 C119.4,560.2 121.2,562.4 123.5,565.5 C125.8,568.6 128.9,572.8 131.0,576.5 C133.1,580.2 134.2,583.7 136.0,587.5 C137.8,591.3 140.2,595.6 142.0,599.5 C143.8,603.4 145.6,607.0 147.0,611.0 C148.4,615.0 149.2,619.4 150.5,623.5 C151.8,627.6 153.5,631.5 154.8,635.4 C156.1,639.3 157.1,642.1 158.4,647.0 C159.7,651.9 161.4,660.7 162.5,664.6 C163.6,668.5 164.0,668.5 164.8,670.4 C165.6,672.3 166.3,674.2 167.1,676.2 C167.9,678.2 168.5,680.4 169.4,682.5 C170.3,684.6 171.4,687.0 172.3,688.8 C173.2,690.6 173.4,692.1 174.6,693.5 C175.8,694.9 177.6,696.2 179.2,696.9 C180.8,697.5 183.4,697.3 184.2,697.4"/>
<path class="r" d="M90.3,598.0 C91.4,598.1 94.5,598.2 96.7,598.5 C98.9,598.8 101.3,599.4 103.4,600.0 C105.5,600.6 107.3,601.2 109.2,602.0 C111.1,602.8 113.2,603.7 114.9,604.8 C116.7,605.9 118.1,607.3 119.7,608.7 C121.3,610.1 122.8,611.0 124.5,613.0 C126.2,615.0 128.1,617.7 130.0,620.5 C131.9,623.3 134.0,626.7 136.0,630.0 C138.0,633.3 140.0,637.0 142.0,640.5 C144.0,644.0 146.0,647.7 148.0,651.0 C150.0,654.3 152.1,657.6 153.8,660.5 C155.6,663.4 157.0,665.8 158.5,668.5 C160.0,671.2 161.6,673.9 163.0,676.5 C164.4,679.1 165.8,681.6 167.0,684.0 C168.2,686.4 169.4,688.5 170.5,691.0 C171.6,693.5 172.4,696.5 173.5,699.0 C174.6,701.5 175.8,704.1 176.9,706.2 C178.0,708.4 179.0,710.0 179.8,711.9 C180.6,713.8 180.9,715.6 181.5,717.7 C182.1,719.8 182.9,723.1 183.3,724.6 C183.8,726.1 184.0,726.2 184.2,726.5"/>
<path class="r" d="M89.9,712.0 C90.6,712.9 92.3,715.3 93.8,717.1 C95.2,718.9 97.3,720.6 98.6,722.9 C99.9,725.1 100.7,728.4 101.5,730.6 C102.3,732.8 103.0,734.6 103.4,736.3 C103.8,738.0 103.9,740.2 104.0,741.0"/>
<path class="r" d="M89.9,725.0 C90.4,726.0 92.1,728.8 93.0,731.0 C93.9,733.2 95.0,736.3 95.5,738.0 C96.0,739.7 95.9,740.5 96.0,741.0"/>
<path class="r" d="M184.2,697.2 C184.5,697.3 184.6,698.3 186.2,698.0 C187.8,697.7 191.5,696.6 193.8,695.4 C196.1,694.2 197.9,692.5 200.0,690.8 C202.1,689.1 204.3,687.4 206.2,685.4 C208.1,683.4 209.8,680.8 211.5,678.5 C213.2,676.2 214.4,674.1 216.2,671.5 C217.9,668.9 220.0,666.0 222.0,663.0 C224.0,660.0 225.4,657.0 228.0,653.7 C230.6,650.4 234.5,646.0 237.7,643.0 C240.9,640.0 244.1,637.0 247.3,635.4 C250.5,633.8 253.7,633.8 256.9,633.5 C260.1,633.2 264.1,633.7 266.5,633.8 C268.9,633.9 270.5,634.2 271.3,634.3"/>
<path class="r" d="M366.4,667.8 C367.5,666.9 370.8,665.3 373.2,662.3 C375.6,659.3 378.4,654.4 381.0,650.0 C383.6,645.6 386.1,641.1 388.6,636.2 C391.2,631.3 393.7,625.9 396.3,620.8 C398.9,615.7 401.4,610.1 404.0,605.4 C406.6,600.7 409.3,596.9 412.0,592.5 C414.7,588.1 417.3,583.4 420.0,579.0 C422.7,574.6 425.3,569.8 428.0,566.0 C430.7,562.2 433.3,558.8 436.0,556.0 C438.7,553.2 441.1,550.6 444.0,549.0 C446.9,547.4 451.9,546.8 453.5,546.3"/>
<path class="r" d="M184.3,726.2 C185.6,725.9 189.7,725.5 192.3,724.6 C194.9,723.7 197.4,722.3 200.0,720.8 C202.6,719.3 205.1,717.4 207.7,715.4 C210.3,713.4 213.1,710.9 215.4,708.5 C217.7,706.1 219.7,703.4 221.5,700.8 C223.3,698.2 224.6,695.7 226.2,693.1 C227.8,690.5 229.3,688.0 230.8,685.4 C232.3,682.8 233.9,680.4 235.4,677.7 C236.9,675.0 238.3,672.0 240.0,669.0 C241.7,666.0 243.7,662.3 245.4,659.5 C247.1,656.7 248.4,654.2 250.0,652.0 C251.6,649.8 253.3,648.0 255.0,646.5 C256.7,645.0 258.4,643.9 260.0,643.0 C261.6,642.1 262.7,641.6 264.6,641.2 C266.5,640.8 270.2,640.6 271.3,640.5"/>
<path class="r" d="M184.3,702.0 C185.8,702.1 190.4,702.4 193.0,702.5 C195.6,702.6 197.8,702.5 200.0,702.5 C202.2,702.5 204.1,702.4 206.2,702.5 C208.2,702.6 210.5,703.4 212.3,703.1 C214.1,702.9 215.5,702.7 217.0,701.0 C218.5,699.3 220.0,695.2 221.5,693.1 C223.0,691.0 224.4,690.5 226.2,688.5 C228.0,686.5 230.2,683.4 232.3,680.8 C234.4,678.2 236.4,675.9 238.5,673.1 C240.6,670.3 242.8,666.9 245.0,664.0 C247.2,661.1 249.5,657.6 252.0,655.5 C254.5,653.4 257.8,652.3 260.0,651.5 C262.2,650.7 263.1,650.8 265.0,650.8 C266.9,650.8 270.2,651.2 271.3,651.3"/>
<path class="r" d="M214.0,741.0 C214.1,739.4 214.2,735.0 214.6,731.5 C215.0,728.0 215.6,723.9 216.5,720.0 C217.4,716.1 218.8,711.5 220.0,708.0 C221.2,704.5 222.7,701.6 224.0,699.0 C225.3,696.4 226.7,694.1 228.0,692.5 C229.3,690.9 230.8,689.8 232.0,689.5 C233.2,689.2 234.0,689.8 235.0,691.0 C236.0,692.2 236.9,694.7 238.0,697.0 C239.1,699.3 240.4,702.2 241.5,704.6 C242.6,707.0 243.6,709.4 244.6,711.5 C245.6,713.6 246.6,715.5 247.5,717.5 C248.4,719.5 249.2,721.1 250.0,723.8 C250.8,726.5 251.8,730.9 252.3,733.8 C252.8,736.7 252.9,739.8 253.0,741.0"/>
<path class="r" d="M366.4,709.0 C368.7,707.6 375.9,703.2 380.2,700.8 C384.5,698.4 388.3,696.6 392.3,694.7 C396.3,692.9 400.7,690.9 404.4,689.7 C408.1,688.5 411.1,687.6 414.5,687.6 C417.9,687.6 421.2,688.5 424.6,689.7 C428.0,690.9 431.3,692.9 434.7,694.7 C438.1,696.6 441.8,699.1 444.8,700.8 C447.8,702.5 450.0,705.0 452.9,704.8 C455.8,704.6 458.9,700.8 462.0,699.5 C465.1,698.2 468.8,698.3 471.5,697.2 C474.2,696.1 475.4,694.5 478.0,693.0 C480.6,691.5 484.4,689.4 487.2,688.5 C490.0,687.6 492.6,687.7 495.0,687.8 C497.4,687.9 499.4,688.8 501.4,689.3 C503.4,689.8 504.9,690.4 507.0,691.0 C509.1,691.6 512.8,692.7 514.0,693.0"/>
<path class="r" d="M366.4,721.0 C369.0,720.8 376.2,720.5 382.2,720.0 C388.2,719.5 395.7,718.9 402.4,718.0 C409.1,717.1 415.9,715.8 422.6,714.9 C429.3,714.0 437.8,713.2 442.8,712.9 C447.9,712.6 450.2,713.5 452.9,713.2 C455.6,712.9 455.8,711.7 458.9,711.3 C462.0,710.9 467.3,711.4 471.5,710.6 C475.7,709.8 480.2,708.1 484.1,706.6 C488.0,705.1 491.4,703.5 495.1,701.9 C498.8,700.3 503.0,698.7 506.1,697.2 C509.2,695.8 512.7,693.9 514.0,693.2"/>
<path class="r" d="M366.4,669.0 C368.0,668.5 373.1,667.9 376.0,666.0 C378.9,664.1 380.9,661.4 384.0,657.7 C387.1,654.0 390.9,648.7 394.8,643.8 C398.7,638.9 403.3,633.4 407.1,628.5 C410.9,623.6 414.7,617.9 417.8,614.6 C420.9,611.3 422.7,610.5 425.5,608.5 C428.3,606.5 432.2,603.7 434.8,602.3 C437.4,600.9 438.9,600.5 440.9,600.0 C442.9,599.5 444.7,599.5 446.8,599.3 C448.9,599.1 450.3,598.7 453.5,598.7 C456.7,598.7 462.0,598.8 466.2,599.2 C470.4,599.6 473.9,600.5 478.5,601.2 C483.1,601.9 487.9,602.7 493.8,603.5 C499.7,604.3 510.6,605.6 514.0,606.0"/>
<path class="r" d="M405.0,720.0 C406.2,719.0 410.0,716.7 412.0,714.0 C414.0,711.3 415.5,707.7 417.0,704.0 C418.5,700.3 419.7,696.3 421.0,692.0 C422.3,687.7 423.7,682.2 425.0,678.0 C426.3,673.8 427.4,670.8 428.6,667.0 C429.8,663.2 431.0,659.0 432.0,655.0 C433.0,651.0 433.9,646.8 434.7,643.0 C435.5,639.2 436.2,635.5 437.0,632.0 C437.8,628.5 438.4,625.5 439.4,622.0 C440.4,618.5 441.7,614.0 442.8,611.0 C443.9,608.0 445.0,605.8 446.0,604.0 C447.0,602.2 447.8,601.4 449.0,600.5 C450.2,599.6 451.8,598.0 453.5,598.7 C455.2,599.5 457.5,602.0 459.2,605.0 C460.9,608.0 462.6,613.0 463.8,616.5 C465.0,620.0 465.6,622.6 466.5,626.0 C467.4,629.4 468.1,633.0 469.0,637.0 C469.9,641.0 470.8,645.3 472.0,650.0 C473.2,654.7 474.7,660.0 476.0,665.0 C477.3,670.0 478.7,675.2 480.0,680.0 C481.3,684.8 482.7,689.3 484.0,694.0 C485.3,698.7 486.7,703.3 488.0,708.0 C489.3,712.7 490.7,717.0 492.0,722.0 C493.3,727.0 495.2,734.8 496.0,738.0 C496.8,741.2 496.8,740.5 497.0,741.0"/>
<path class="r" d="M444.0,741.0 C444.5,739.2 446.0,733.3 447.0,730.0 C448.0,726.7 449.0,723.6 450.0,721.0 C451.0,718.4 452.0,714.5 453.0,714.5 C454.0,714.5 455.0,718.4 456.0,721.0 C457.0,723.6 458.0,726.7 459.0,730.0 C460.0,733.3 461.5,739.2 462.0,741.0"/>
</g>
<g fill="none" stroke="#d83a40" stroke-width="2" stroke-dasharray="3.2,2.4">
<path class="r" d="M271.3,634.3 C272.4,634.4 275.5,634.8 278.0,635.1 C280.5,635.5 283.5,635.7 286.2,636.4 C288.9,637.1 291.5,637.9 294.2,639.1 C296.9,640.3 299.6,642.3 302.3,643.8 C305.0,645.3 307.7,646.7 310.4,647.9 C313.1,649.1 315.8,650.1 318.5,651.2 C321.2,652.3 323.9,653.3 326.5,654.6 C329.1,655.9 331.7,657.6 334.2,658.9 C336.7,660.2 338.7,661.2 341.3,662.5 C343.9,663.8 346.9,665.7 349.6,666.6 C352.4,667.5 355.0,667.6 357.8,667.8 C360.6,668.0 365.0,667.8 366.4,667.8"/>
<path class="r" d="M271.3,651.3 C272.4,651.0 274.9,650.5 278.0,649.4 C281.1,648.3 286.2,646.1 290.0,644.7 C293.8,643.3 297.6,641.8 301.0,640.8 C304.4,639.8 307.7,639.0 310.4,638.8 C313.1,638.6 314.9,638.8 317.1,639.4 C319.3,640.0 321.6,640.8 323.8,642.1 C326.1,643.5 328.9,646.0 330.6,647.5 C332.3,649.0 333.1,649.8 334.2,650.9 C335.3,652.0 336.3,653.0 337.3,654.2 C338.3,655.4 338.9,656.2 340.1,658.0 C341.4,659.8 343.4,662.5 344.8,665.1 C346.2,667.7 347.2,670.6 348.4,673.4 C349.6,676.2 350.7,678.8 351.9,681.7 C353.1,684.7 354.3,688.0 355.5,691.1 C356.7,694.2 357.8,697.2 359.0,700.6 C360.2,704.0 361.5,707.9 362.6,711.2 C363.7,714.6 364.9,718.9 365.5,720.7 C366.1,722.6 366.2,722.0 366.4,722.3"/>
<path class="r" d="M271.3,634.3 C272.4,634.4 275.5,634.8 278.0,635.1 C280.5,635.5 283.5,635.7 286.2,636.4 C288.9,637.1 291.5,637.9 294.2,639.1 C296.9,640.3 299.6,642.3 302.3,643.8 C305.0,645.3 307.7,646.7 310.4,647.9 C313.1,649.1 315.8,650.1 318.5,651.2 C321.2,652.3 323.9,653.3 326.5,654.6 C329.1,655.9 331.7,657.6 334.2,658.9 C336.7,660.2 339.6,661.3 341.3,662.5 C343.0,663.7 343.5,664.6 344.5,666.0 C345.5,667.4 346.2,668.5 347.2,670.7 C348.2,672.9 349.5,676.2 350.7,679.0 C351.9,681.8 353.1,684.3 354.3,687.3 C355.5,690.2 356.6,693.6 357.8,696.7 C359.0,699.9 360.2,702.9 361.4,706.2 C362.6,709.6 364.1,714.2 364.9,716.8 C365.7,719.3 366.1,720.7 366.4,721.5"/>
</g>
<g fill="none" stroke="#000" stroke-width="2" stroke-linejoin="round">
<path class="k" d="M90.3,546.4 C91.8,546.7 96.7,547.2 99.5,548.1 C102.3,549.0 104.6,550.3 107.2,551.9 C109.8,553.5 112.3,555.3 114.9,557.7 C117.5,560.1 120.0,562.8 122.6,566.3 C125.2,569.8 127.7,574.1 130.3,578.8 C132.9,583.4 135.8,589.4 138.0,594.2 C140.2,599.0 142.3,603.4 143.8,607.7 C145.3,612.0 145.4,614.8 147.0,620.0 C148.6,625.2 151.7,634.2 153.4,639.2 C155.1,644.2 155.8,646.5 157.0,650.0 C158.2,653.5 159.5,656.3 160.8,660.0 C162.1,663.7 163.5,667.6 164.8,672.0 C166.1,676.4 167.7,682.8 168.8,686.5 C169.9,690.2 170.5,691.5 171.5,694.0 C172.5,696.5 173.7,699.0 174.6,701.5 C175.5,704.0 176.2,706.3 177.0,709.0 C177.8,711.7 178.4,714.7 179.2,717.7 C179.9,720.7 180.7,723.7 181.5,727.0 C182.3,730.3 183.6,735.6 184.0,737.3"/>
<path class="k" d="M90.3,592.3 C91.8,592.5 96.0,592.3 99.5,593.3 C103.0,594.2 107.5,595.9 111.0,598.0 C114.5,600.1 117.8,602.9 120.7,605.8 C123.6,608.7 126.6,613.0 128.4,615.4 C130.2,617.8 129.7,617.4 131.3,620.0 C132.9,622.6 135.6,627.1 138.0,631.0 C140.4,634.9 143.7,640.1 145.7,643.5 C147.7,646.9 148.7,648.8 150.0,651.5 C151.3,654.2 152.5,657.2 153.8,660.0 C155.1,662.8 156.6,665.7 158.0,668.5 C159.4,671.3 161.2,674.5 162.5,677.0 C163.8,679.5 164.9,681.7 166.0,683.5 C167.1,685.3 167.9,686.4 168.8,688.0 C169.7,689.6 170.5,691.3 171.5,693.0 C172.5,694.7 173.3,696.3 174.6,698.0 C175.9,699.7 177.6,702.2 179.2,703.3 C180.8,704.4 183.4,704.5 184.2,704.7"/>
<path class="k" d="M89.9,702.7 C90.8,703.1 93.4,703.7 95.0,705.0 C96.6,706.3 98.0,707.6 99.5,710.4 C101.0,713.2 103.0,717.4 104.3,721.9 C105.6,726.4 106.7,734.1 107.2,737.3 C107.8,740.5 107.5,740.4 107.6,741.0"/>
<path class="k" d="M89.9,718.1 C90.9,719.0 93.9,720.9 95.7,723.8 C97.5,726.7 99.5,732.5 100.5,735.4 C101.5,738.3 101.3,740.1 101.5,741.0"/>
<path class="k" d="M184.3,704.6 C185.6,704.3 189.7,704.0 192.3,702.8 C194.9,701.6 197.6,699.4 200.0,697.5 C202.4,695.6 204.5,693.5 206.5,691.2 C208.5,689.0 210.1,686.7 212.0,684.0 C213.9,681.3 216.3,677.6 218.0,675.0 C219.7,672.4 220.6,670.8 222.0,668.5 C223.4,666.2 224.7,663.4 226.2,661.0 C227.7,658.6 229.2,656.2 231.0,654.0 C232.8,651.8 234.8,649.4 237.0,647.5 C239.2,645.6 241.7,643.8 244.0,642.5 C246.3,641.2 248.7,640.3 251.0,639.6 C253.3,638.9 255.8,638.6 258.0,638.5 C260.2,638.4 261.8,638.5 264.0,638.8 C266.2,639.1 268.1,639.9 271.3,640.3 C274.6,640.7 279.9,640.4 283.5,641.2 C287.1,642.0 289.5,643.4 292.9,645.2 C296.2,647.0 300.0,649.9 303.6,651.9 C307.2,653.9 311.7,655.9 314.4,657.3 C317.1,658.7 318.0,659.1 320.0,660.1 C322.0,661.1 324.5,662.4 326.5,663.4 C328.5,664.4 328.9,664.7 331.8,666.0 C334.7,667.3 340.2,670.0 343.6,671.3 C347.0,672.6 348.9,673.1 351.9,673.7 C354.9,674.3 359.0,674.7 361.4,674.9 C363.8,675.1 365.6,674.9 366.4,674.9"/>
<path class="k" d="M184.3,704.6 C186.2,704.5 192.0,703.8 195.4,703.8 C198.8,703.8 202.3,704.6 205.0,704.9 C207.7,705.2 209.8,705.7 211.7,705.6 C213.6,705.5 215.2,704.8 216.4,704.2 C217.6,703.6 218.3,703.1 219.1,702.2 C219.9,701.3 220.4,700.2 221.2,698.8 C222.0,697.3 222.8,695.3 223.8,693.5 C224.8,691.7 226.1,689.8 227.2,688.1 C228.3,686.4 229.6,684.8 230.6,683.4 C231.6,682.0 232.1,681.8 233.3,680.0 C234.5,678.2 236.1,675.6 238.0,672.5 C239.9,669.4 242.6,664.6 244.6,661.5 C246.6,658.4 247.9,656.3 250.0,654.0 C252.1,651.7 254.5,649.4 256.9,647.5 C259.3,645.6 262.2,643.6 264.6,642.5 C267.0,641.4 270.2,641.1 271.3,640.8"/>
<path class="k" d="M184.3,736.2 C185.6,735.9 189.2,735.9 192.3,734.6 C195.4,733.3 199.8,731.1 203.1,728.5 C206.4,725.9 209.5,722.3 212.3,719.2 C215.1,716.1 217.7,713.1 220.0,710.0 C222.3,706.9 223.9,704.4 226.2,700.8 C228.5,697.2 231.2,692.4 233.8,688.5 C236.4,684.6 239.2,680.8 241.5,677.7 C243.8,674.6 245.1,673.2 247.7,670.0 C250.3,666.8 254.1,661.4 256.9,658.5 C259.7,655.6 262.2,654.0 264.6,652.7 C267.0,651.4 268.6,651.3 271.3,650.8 C274.0,650.3 277.4,650.9 280.8,649.9 C284.2,648.9 287.9,646.2 291.5,644.5 C295.1,642.8 298.7,640.9 302.3,639.8 C305.9,638.7 309.5,637.8 313.1,637.8 C316.7,637.8 320.7,638.6 323.8,639.8 C326.9,641.0 329.2,642.6 331.9,645.2 C334.6,647.8 337.8,652.3 340.1,655.4 C342.5,658.5 344.2,660.6 346.0,663.6 C347.8,666.6 349.1,669.6 350.7,673.1 C352.3,676.6 353.9,681.0 355.5,684.9 C357.1,688.8 358.6,692.6 360.2,696.7 C361.8,700.8 363.9,707.2 364.9,709.7 C365.9,712.2 366.1,711.6 366.4,712.0"/>
<path class="k" d="M184.3,737.4 C185.6,737.1 189.2,737.1 192.3,735.8 C195.4,734.5 199.8,732.3 203.1,729.7 C206.4,727.1 209.5,723.5 212.3,720.4 C215.1,717.3 217.7,714.3 220.0,711.2 C222.3,708.1 223.9,705.6 226.2,702.0 C228.5,698.4 231.2,693.6 233.8,689.7 C236.4,685.9 239.2,682.0 241.5,678.9 C243.8,675.8 245.1,674.4 247.7,671.2 C250.3,668.0 254.1,662.6 256.9,659.7 C259.7,656.8 262.2,655.2 264.6,653.9 C267.0,652.6 270.2,652.3 271.3,652.0"/>
<path class="k" d="M210.4,741.0 C210.5,740.5 210.2,740.1 210.8,737.7 C211.4,735.4 212.5,731.0 213.8,726.9 C215.1,722.8 216.7,718.0 218.5,713.1 C220.3,708.2 222.5,702.1 224.6,697.7 C226.7,693.3 229.1,689.1 230.8,686.9 C232.5,684.7 233.3,684.6 234.6,684.6 C235.9,684.6 237.1,685.0 238.5,686.9 C239.9,688.8 241.6,692.4 243.1,696.2 C244.6,700.1 246.2,705.4 247.7,710.0 C249.2,714.6 250.9,719.2 252.3,723.8 C253.7,728.4 255.5,734.8 256.2,737.7 C256.9,740.6 256.5,740.5 256.6,741.0"/>
<path class="k" d="M366.4,674.8 C367.5,673.8 371.0,671.1 373.2,668.5 C375.4,665.9 377.1,663.1 379.4,659.2 C381.7,655.4 384.5,650.3 387.1,645.4 C389.7,640.5 392.2,635.4 394.8,630.0 C397.4,624.6 399.9,618.7 402.5,613.1 C405.1,607.5 407.6,601.3 410.2,596.2 C412.8,591.1 415.5,586.5 417.8,582.3 C420.1,578.1 421.5,575.0 424.0,571.0 C426.5,567.0 429.6,561.9 432.7,558.3 C435.8,554.7 439.3,551.2 442.8,549.2 C446.3,547.2 450.1,546.4 453.5,546.2 C456.9,546.0 460.0,546.3 463.1,547.8 C466.2,549.3 469.5,552.1 472.3,555.0 C475.1,557.9 477.4,561.3 480.0,565.0 C482.6,568.7 485.1,573.4 487.7,577.3 C490.3,581.1 492.8,584.8 495.4,588.1 C498.0,591.4 501.0,595.1 503.1,597.3 C505.2,599.5 506.2,600.4 508.0,601.5 C509.8,602.6 513.0,603.8 514.0,604.2"/>
<path class="k" d="M366.4,674.8 C368.0,674.2 372.9,673.6 376.3,671.5 C379.8,669.4 383.5,665.9 387.1,662.3 C390.7,658.7 394.2,654.9 397.8,650.0 C401.4,645.1 405.3,638.7 408.6,633.1 C411.9,627.5 415.0,621.1 417.8,616.2 C420.6,611.3 422.9,607.1 425.5,603.8 C428.1,600.5 430.6,598.0 433.2,596.2 C435.8,594.4 438.6,593.8 440.9,593.1 C443.2,592.4 444.9,592.4 447.0,592.2 C449.1,592.0 450.8,592.0 453.5,592.0 C456.2,592.0 458.9,591.7 463.1,592.2 C467.3,592.7 473.4,593.9 478.5,595.0 C483.6,596.1 489.6,597.7 493.8,598.8 C498.1,599.9 500.6,600.6 504.0,601.5 C507.4,602.4 512.3,603.8 514.0,604.2"/>
<path class="k" d="M366.4,726.0 C369.0,725.8 378.3,725.3 382.2,725.0 C386.1,724.7 387.3,724.4 390.0,724.0 C392.7,723.6 396.0,723.5 398.3,722.9 C400.6,722.3 402.1,721.7 404.0,720.5 C405.9,719.3 408.2,717.8 410.0,715.5 C411.8,713.2 413.1,710.5 414.5,706.8 C415.9,703.0 417.4,696.6 418.5,693.0 C419.6,689.4 420.1,688.0 421.0,685.0 C421.9,682.0 423.0,678.3 424.0,675.0 C425.0,671.7 426.0,668.3 427.0,665.0 C428.0,661.7 429.1,658.0 430.0,655.0 C430.9,652.0 431.9,649.5 432.7,647.0 C433.5,644.5 434.0,642.8 434.8,640.0 C435.6,637.2 436.7,633.0 437.5,630.0 C438.3,627.0 438.8,625.0 439.5,622.0 C440.2,619.0 441.1,615.2 442.0,612.0 C442.9,608.8 443.6,605.8 444.8,603.0 C446.0,600.2 447.6,596.9 449.0,595.0 C450.4,593.1 452.2,591.7 453.5,591.6 C454.8,591.5 455.9,593.3 457.0,594.5 C458.1,595.7 459.1,597.1 460.0,598.8 C460.9,600.5 461.7,602.4 462.5,604.5 C463.3,606.6 463.9,608.8 464.6,611.2 C465.3,613.6 466.0,616.2 466.8,619.0 C467.6,621.8 468.3,624.5 469.2,628.0 C470.1,631.5 470.9,635.0 472.0,640.0 C473.1,645.0 474.5,651.6 476.0,658.0 C477.5,664.4 479.7,673.0 481.0,678.3 C482.3,683.6 483.0,686.1 484.0,690.0 C485.0,693.9 485.9,697.3 487.2,701.9 C488.5,706.5 490.3,711.7 492.0,717.6 C493.7,723.5 496.5,733.4 497.5,737.3 C498.5,741.2 497.9,740.4 498.0,741.0"/>
<path class="k" d="M366.4,711.9 C368.4,710.0 374.2,705.0 378.2,700.8 C382.2,696.6 386.3,690.3 390.3,686.6 C394.3,682.9 398.4,680.4 402.4,678.6 C406.4,676.9 411.1,676.3 414.5,676.1 C417.9,675.9 419.6,676.1 422.6,677.5 C425.6,678.9 429.3,681.7 432.7,684.6 C436.1,687.5 439.4,691.8 442.8,694.7 C446.2,697.7 449.4,703.2 452.9,702.3 C456.4,701.4 460.2,692.6 463.6,689.3 C467.0,685.9 470.0,684.0 473.1,682.2 C476.2,680.4 479.1,679.2 482.5,678.3 C485.9,677.4 489.8,676.8 493.5,676.7 C497.2,676.6 501.2,676.9 504.6,677.5 C508.0,678.1 512.4,680.1 514.0,680.6"/>
<path class="k" d="M366.4,711.9 C369.0,711.6 376.2,710.8 382.2,709.9 C388.2,709.0 395.7,707.8 402.4,706.8 C409.1,705.8 415.9,704.6 422.6,703.8 C429.3,703.0 437.8,702.1 442.8,701.8 C447.9,701.5 449.4,701.9 452.9,701.8 C456.4,701.7 459.7,701.7 463.6,701.1 C467.5,700.5 472.3,699.2 476.2,698.0 C480.1,696.8 483.3,695.7 487.2,694.0 C491.1,692.3 495.3,689.9 499.8,687.7 C504.3,685.5 511.6,681.8 514.0,680.6"/>
<path class="k" d="M436.2,741.0 C436.3,740.7 435.6,741.4 436.7,739.1 C437.8,736.8 441.1,730.1 442.8,727.0 C444.5,723.9 445.3,722.3 447.0,720.5 C448.7,718.7 450.9,715.4 452.9,716.0 C454.9,716.6 457.2,721.6 458.9,723.9 C460.6,726.1 461.7,727.3 463.0,729.5 C464.3,731.7 466.0,735.4 466.8,737.3 C467.6,739.2 467.5,740.4 467.6,741.0"/>
<path class="k" d="M360.4,741.0 C360.5,740.7 360.5,740.4 360.9,739.1 C361.3,737.8 362.1,735.2 363.0,733.0 C363.9,730.8 365.4,726.3 366.4,726.0 C367.4,725.7 367.7,728.8 369.0,731.0 C370.3,733.2 373.1,737.4 374.1,739.1 C375.1,740.8 374.9,740.7 375.0,741.0"/>
</g>
</g>
<g stroke="#000" stroke-width="1.5">
<line x1="184.3" y1="294.0" x2="184.3" y2="505.5"/>
<line x1="184.3" y1="527.0" x2="184.3" y2="738.4"/>
<line x1="271.2" y1="294.0" x2="271.2" y2="505.5"/>
<line x1="271.2" y1="527.0" x2="271.2" y2="738.4"/>
<line x1="366.3" y1="294.0" x2="366.3" y2="505.5"/>
<line x1="366.3" y1="527.0" x2="366.3" y2="738.4"/>
<line x1="452.9" y1="294.0" x2="452.9" y2="505.5"/>
<line x1="452.9" y1="527.0" x2="452.9" y2="738.4"/>
</g>
<g stroke="#000" stroke-width="2">
<line x1="89.8" y1="294.0" x2="99.2" y2="294.0"/>
<line x1="89.8" y1="336.3" x2="99.2" y2="336.3"/>
<line x1="89.8" y1="378.6" x2="99.2" y2="378.6"/>
<line x1="89.8" y1="420.9" x2="99.2" y2="420.9"/>
<line x1="89.8" y1="463.2" x2="99.2" y2="463.2"/>
<line x1="89.8" y1="505.5" x2="99.2" y2="505.5"/>
<line x1="89.8" y1="315.1" x2="94.8" y2="315.1"/>
<line x1="89.8" y1="357.4" x2="94.8" y2="357.4"/>
<line x1="89.8" y1="399.8" x2="94.8" y2="399.8"/>
<line x1="89.8" y1="442.0" x2="94.8" y2="442.0"/>
<line x1="89.8" y1="484.4" x2="94.8" y2="484.4"/>
<line x1="89.8" y1="546.2" x2="99.2" y2="546.2"/>
<line x1="89.8" y1="584.6" x2="99.2" y2="584.6"/>
<line x1="89.8" y1="623.0" x2="99.2" y2="623.0"/>
<line x1="89.8" y1="661.4" x2="99.2" y2="661.4"/>
<line x1="89.8" y1="699.8" x2="99.2" y2="699.8"/>
<line x1="89.8" y1="738.2" x2="99.2" y2="738.2"/>
<line x1="89.8" y1="565.4" x2="94.8" y2="565.4"/>
<line x1="89.8" y1="603.8" x2="94.8" y2="603.8"/>
<line x1="89.8" y1="642.2" x2="94.8" y2="642.2"/>
<line x1="89.8" y1="680.6" x2="94.8" y2="680.6"/>
<line x1="89.8" y1="719.0" x2="94.8" y2="719.0"/>
</g>
<rect x="89.75" y="294.00" width="424.45" height="211.50" fill="none" stroke="#000" stroke-width="2"/>
<rect x="89.75" y="527.00" width="424.45" height="211.40" fill="none" stroke="#000" stroke-width="2"/>
<!-- legend box -->
<rect x="158.8" y="437" width="188" height="61.5" fill="#fff" stroke="#000" stroke-width="1.6"/>
<line x1="170.6" y1="454.8" x2="190" y2="454.8" stroke="#dd2a2a" stroke-width="2.1" stroke-linecap="round" stroke-dasharray="0,6.25"/>
<line x1="170.3" y1="478.9" x2="190.8" y2="478.9" stroke="#000" stroke-width="2"/>
<g font-family="Liberation Sans, Arial, sans-serif" font-size="16" fill="#111" stroke="#111" stroke-width="0.25">
<text transform="translate(207.2,460.1) scale(1.037,1)">DFT-LDA</text>
<text transform="translate(207.6,482.1) scale(1.035,1)">DFT-LDA + G<tspan font-size="11.5" dy="5.3" dx="0.3">0</tspan><tspan dy="-5.3" dx="0.3">W</tspan><tspan font-size="11.5" dy="5.3" dx="0.2">0</tspan></text>
</g>
<g font-family="Liberation Sans, Arial, sans-serif" font-size="16" fill="#111" stroke="#111" stroke-width="0.25">
<text transform="translate(79.6,299.7) scale(1.045,1)" text-anchor="end">11.0</text>
<text transform="translate(79.6,342.0) scale(1.045,1)" text-anchor="end">9.0</text>
<text transform="translate(79.6,384.3) scale(1.045,1)" text-anchor="end">7.0</text>
<text transform="translate(79.6,426.6) scale(1.045,1)" text-anchor="end">5.0</text>
<text transform="translate(79.6,468.9) scale(1.045,1)" text-anchor="end">3.0</text>
<text transform="translate(79.6,511.2) scale(1.045,1)" text-anchor="end">1.0</text>
<text transform="translate(79.3,552.1) scale(1.04,1)" text-anchor="end">0.0</text>
<text transform="translate(79.3,590.5) scale(1.04,1)" text-anchor="end">-0.5</text>
<text transform="translate(79.3,628.9) scale(1.04,1)" text-anchor="end">-1.0</text>
<text transform="translate(79.3,667.3) scale(1.04,1)" text-anchor="end">-1.5</text>
<text transform="translate(79.3,705.7) scale(1.04,1)" text-anchor="end">-2.0</text>
<text transform="translate(79.3,744.1) scale(1.04,1)" text-anchor="end">-2.5</text>
<text x="90.6" y="760.4" text-anchor="middle" font-family="Liberation Serif, serif" font-size="17" stroke="#000" stroke-width="0.2">Γ</text>
<text x="184.6" y="760.8" text-anchor="middle">Z</text>
<text x="271.3" y="760.8" text-anchor="middle">A</text>
<text x="366.6" y="760.8" text-anchor="middle">M</text>
<text x="453.6" y="760.4" text-anchor="middle" font-family="Liberation Serif, serif" font-size="17" stroke="#000" stroke-width="0.2">Γ</text>
<text x="515.6" y="760.8" text-anchor="middle">X</text>
<text transform="translate(34.7,561.5) rotate(-90)">E - E<tspan font-size="11.3" dy="5.7">VBM</tspan><tspan dy="-5.7"> (eV)</tspan></text>
</g>
</svg>
</body></html>
